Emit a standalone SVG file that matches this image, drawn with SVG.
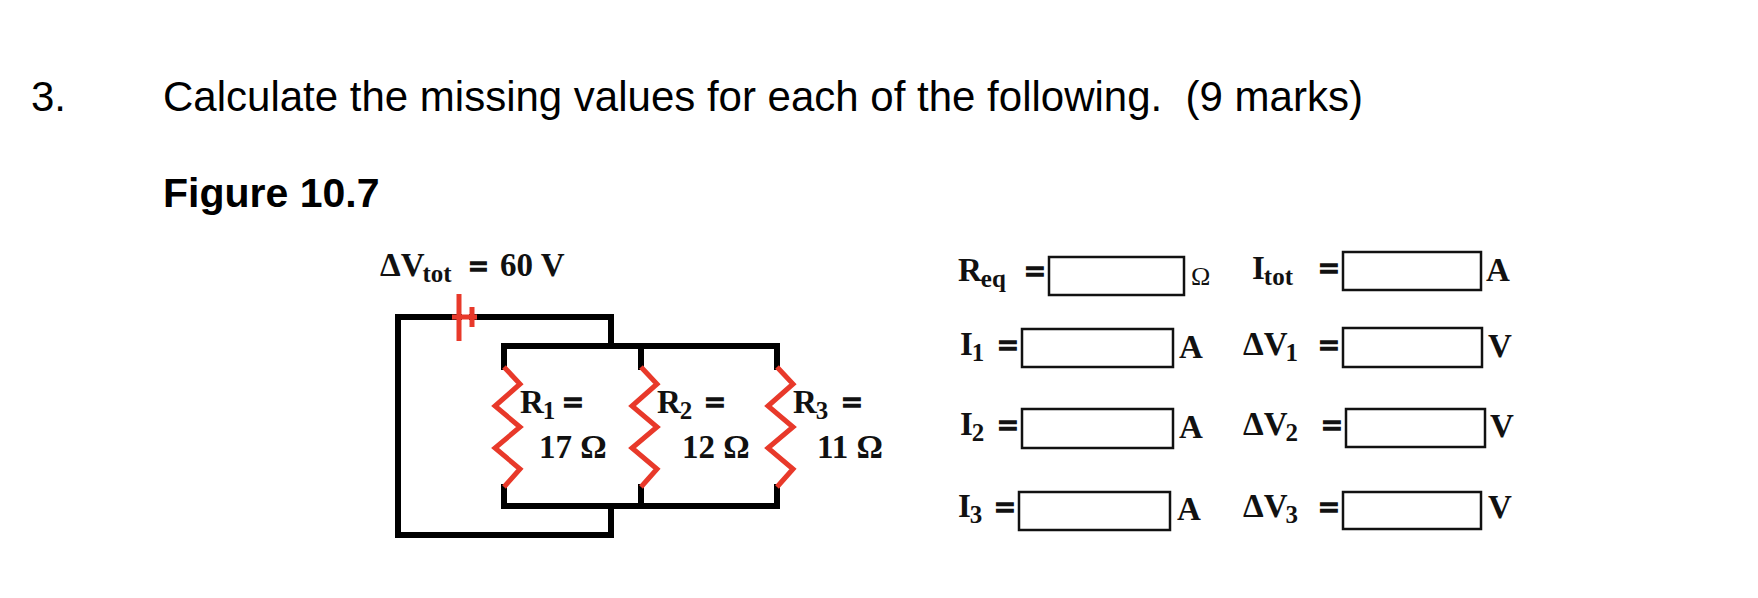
<svg xmlns="http://www.w3.org/2000/svg" width="1758" height="598" viewBox="0 0 1758 598">
<style>
.h{font-family:"Liberation Sans",Arial,sans-serif;font-size:42px;fill:#000}
.hb{font-family:"Liberation Sans",Arial,sans-serif;font-size:41px;font-weight:bold;fill:#000}
.t{font-family:"Liberation Serif","Times New Roman",serif;font-size:33px;font-weight:bold;fill:#111}
.eq{font-family:"Liberation Serif","Times New Roman",serif;font-size:34px;font-weight:bold;fill:#111;stroke:#111;stroke-width:1.5;text-anchor:end}
.s{font-size:25px}
.w{fill:none;stroke:#000;stroke-width:6;stroke-linecap:square}
.r{fill:none;stroke:#e8392a;stroke-width:5;stroke-linejoin:miter}
.box{fill:#fff;stroke:#111;stroke-width:2.5}
</style>
<rect width="1758" height="598" fill="#fff"/>
<text class="h" x="31" y="111">3.</text>
<text class="h" x="163" y="111" xml:space="preserve">Calculate the missing values for each of the following.  (9 marks)</text>
<text class="hb" x="163" y="207">Figure 10.7</text>

<g id="connectors">
<polyline class="w" points="459,317 398,317 398,535 611,535 611,506"/>
<polyline class="w" points="472,317 611,317 611,346"/>
<polyline class="w" points="504,367 504,346 777,346 777,367"/>
<line class="w" x1="641" y1="346" x2="641" y2="367"/>
<polyline class="w" points="504,487 504,506 777,506 777,487"/>
<line class="w" x1="641" y1="506" x2="641" y2="487"/>
<line x1="452" y1="317" x2="477" y2="317" stroke="#e8392a" stroke-width="5"/>
</g>

<g id="battery">
<line x1="459" y1="294" x2="459" y2="341" stroke="#e8392a" stroke-width="5"/>
<line x1="472" y1="307" x2="472" y2="327" stroke="#e8392a" stroke-width="5"/>
<text class="t" x="380" y="276">ΔV<tspan class="s" dy="6" dx="-2">tot</tspan></text>
<text class="eq" x="488" y="278" textLength="19" lengthAdjust="spacingAndGlyphs">=</text>
<text class="t" x="500" y="276">60 V</text>
</g>

<g id="R1">
<polyline class="r" points="504,367 520,384 495,406 520,427 495,448 520,469 504,487"/>
<text class="t" x="520" y="413">R<tspan class="s" dy="6" dx="-1">1</tspan></text>
<text class="eq" x="583" y="414" textLength="20" lengthAdjust="spacingAndGlyphs">=</text>
<text class="t" x="539" y="458">17 Ω</text>
</g>
<g id="R2">
<polyline class="r" points="641,367 657,384 632,406 657,427 632,448 657,469 641,487"/>
<text class="t" x="657" y="413">R<tspan class="s" dy="6" dx="-1">2</tspan></text>
<text class="eq" x="725" y="414" textLength="20" lengthAdjust="spacingAndGlyphs">=</text>
<text class="t" x="682" y="458">12 Ω</text>
</g>
<g id="R3">
<polyline class="r" points="777,367 793,384 768,406 793,427 768,448 793,469 777,487"/>
<text class="t" x="793" y="413">R<tspan class="s" dy="6" dx="-1">3</tspan></text>
<text class="eq" x="862" y="414" textLength="20" lengthAdjust="spacingAndGlyphs">=</text>
<text class="t" x="817" y="458">11 Ω</text>
</g>

<g id="Req">
<text class="t" x="958" y="281">R<tspan class="s" dy="6" dx="-1">eq</tspan></text>
<text class="eq" x="1045" y="283" textLength="20" lengthAdjust="spacingAndGlyphs">=</text>
<rect class="box" x="1049" y="257" width="135" height="38"/>
<text class="t" x="1191" y="285" style="font-weight:normal;font-size:26px">Ω</text>
</g>
<g id="Itot">
<text class="t" x="1252" y="279">I<tspan class="s" dy="6" dx="-1">tot</tspan></text>
<text class="eq" x="1339" y="280" textLength="20" lengthAdjust="spacingAndGlyphs">=</text>
<rect class="box" x="1343" y="252" width="138" height="38"/>
<text class="t" x="1486" y="281">A</text>
</g>
<g id="I1">
<text class="t" x="960" y="355">I<tspan class="s" dy="6" dx="-1">1</tspan></text>
<text class="eq" x="1018" y="357" textLength="20" lengthAdjust="spacingAndGlyphs">=</text>
<rect class="box" x="1022" y="329" width="151" height="38"/>
<text class="t" x="1179" y="358">A</text>
</g>
<g id="dV1">
<text class="t" x="1243" y="355">ΔV<tspan class="s" dy="6" dx="-2">1</tspan></text>
<text class="eq" x="1339" y="357" textLength="20" lengthAdjust="spacingAndGlyphs">=</text>
<rect class="box" x="1343" y="328" width="139" height="39"/>
<text class="t" x="1488" y="357">V</text>
</g>
<g id="I2">
<text class="t" x="960" y="435">I<tspan class="s" dy="6" dx="-1">2</tspan></text>
<text class="eq" x="1018" y="437" textLength="20" lengthAdjust="spacingAndGlyphs">=</text>
<rect class="box" x="1022" y="409" width="151" height="39"/>
<text class="t" x="1179" y="438">A</text>
</g>
<g id="dV2">
<text class="t" x="1243" y="435">ΔV<tspan class="s" dy="6" dx="-2">2</tspan></text>
<text class="eq" x="1342" y="437" textLength="20" lengthAdjust="spacingAndGlyphs">=</text>
<rect class="box" x="1346" y="409" width="139" height="38"/>
<text class="t" x="1490" y="437">V</text>
</g>
<g id="I3">
<text class="t" x="958" y="517">I<tspan class="s" dy="6" dx="-1">3</tspan></text>
<text class="eq" x="1015" y="519" textLength="20" lengthAdjust="spacingAndGlyphs">=</text>
<rect class="box" x="1019" y="492" width="151" height="38"/>
<text class="t" x="1177" y="520">A</text>
</g>
<g id="dV3">
<text class="t" x="1243" y="517">ΔV<tspan class="s" dy="6" dx="-2">3</tspan></text>
<text class="eq" x="1339" y="519" textLength="20" lengthAdjust="spacingAndGlyphs">=</text>
<rect class="box" x="1343" y="492" width="138" height="37"/>
<text class="t" x="1488" y="518">V</text>
</g>
</svg>
